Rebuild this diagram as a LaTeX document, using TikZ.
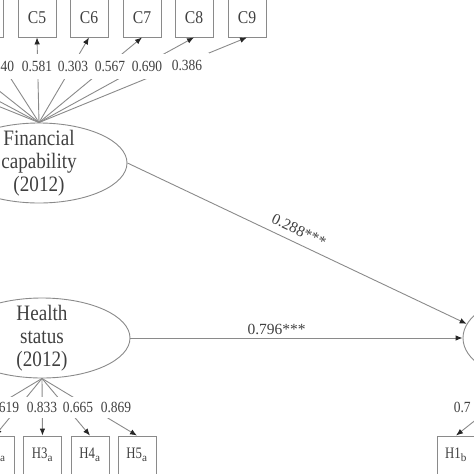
\documentclass[tikz,border=0pt]{standalone}
\usepackage{fontspec}
\setmainfont{Liberation Serif}
\newfontfamily\nfont[FakeStretch=0.87]{Liberation Serif}
\newfontfamily\hfont[FakeStretch=0.8]{Liberation Serif}
\usetikzlibrary{arrows.meta,shapes.geometric}
\definecolor{linegray}{HTML}{8A8A8A}
\definecolor{txt}{HTML}{404040}
\begin{document}
\begin{tikzpicture}[x=1pt,y=-1pt,
  latent/.style={ellipse,draw=linegray,line width=0.9pt,minimum width=176pt,minimum height=80pt,
    inner xsep=0pt,inner ysep=-14pt,align=center,text=txt,font=\nfont\fontsize{22}{23}\selectfont},
  obsc/.style={rectangle,draw=linegray,line width=0.9pt,minimum width=38pt,minimum height=38pt,
    inner sep=0pt,text=txt,font=\nfont\fontsize{18}{20}\selectfont},
  obsh/.style={obsc,font=\hfont\fontsize{16}{18}\selectfont},
  load/.style={fill=white,inner sep=0pt,minimum width=39pt,text=txt,font=\nfont\fontsize{15.5}{17}\selectfont},
  loadtop/.style={load,minimum height=25pt},
  loadbot/.style={load,minimum height=21pt},
  conn/.style={draw=linegray,line width=0.9pt,-{Latex[length=7pt,width=5.5pt,color=black!85]}},
  plabel/.style={text=txt,font=\fontsize{15.5}{17}\selectfont,inner sep=2pt}]
\useasboundingbox (0,0) rectangle (474,474);
\clip (0,0) rectangle (474,474);

% latent variables
\node[latent] (f) at (39,163) {Financial\\capability\\(2012)};
\node[latent] (h) at (42,338) {Health\\status\\(2012)};
\node[latent,minimum width=130pt] (r) at (528,338) {};

% financial indicators (C1-C4 lie outside the visible area)
\node[obsc] (c1) at (-173,18) {};
\node[obsc] (c2) at (-120.5,18) {};
\node[obsc] (c3) at (-68,18) {};
\node[obsc] (c4) at (-15.5,18) {};
\node[obsc] (c5) at (37,18) {C5};
\node[obsc] (c6) at (89,18) {C6};
\node[obsc] (c7) at (142,18) {C7};
\node[obsc] (c8) at (194,18) {C8};
\node[obsc] (c9) at (247,18) {C9};

% health indicators
\node[obsh] (h1) at (-53,455) {};
\node[obsh] (h2) at (-5,455) {H2$_{\mathrm{a}}$};
\node[obsh] (h3) at (42.5,455) {H3$_{\mathrm{a}}$};
\node[obsh] (h4) at (90,455) {H4$_{\mathrm{a}}$};
\node[obsh] (h5) at (137,455) {H5$_{\mathrm{a}}$};
\node[obsh] (hb1) at (456,455) {H1$_{\mathrm{b}}$};

% loadings
\foreach \c in {c1,c2,c3,c4,c5,c6,c7,c8,c9}
  \path[conn] (f.north) -- (\c.south);
\foreach \c in {h1,h2,h3,h4,h5}
  \path[conn] (h.south) -- (\c.north);
\path[conn] (r.south) -- (hb1.north);

\node[loadtop] (lc4) at (-1,66) {0.640};
\node[loadtop] (lc5) at (37,66) {0.581};
\node[loadtop] (lc6) at (73,66) {0.303};
\node[loadtop] (lc7) at (110,66) {0.567};
\node[loadtop] (lc8) at (147,66) {0.690};
\node[loadtop,minimum width=43pt] (lc9) at (187,65) {0.386};

\node[loadbot] (lh2) at (4,407.5) {0.619};
\node[loadbot] (lh3) at (42,407.5) {0.833};
\node[loadbot] (lh4) at (78,407.5) {0.665};
\node[loadbot] (lh5) at (116,407.5) {0.869};
\node[loadbot] (lhb1) at (469,407.5) {0.7\phantom{00}};

% structural paths
\path[conn] (f.east) -- node[plabel,sloped,above=5pt,pos=0.49] (p1) {0.288***} (r.167);
\path[conn] (h.east) -- node[plabel,above=1pt,pos=0.44] (p2) {0.796***} (r.west);
\end{tikzpicture}
\end{document}
